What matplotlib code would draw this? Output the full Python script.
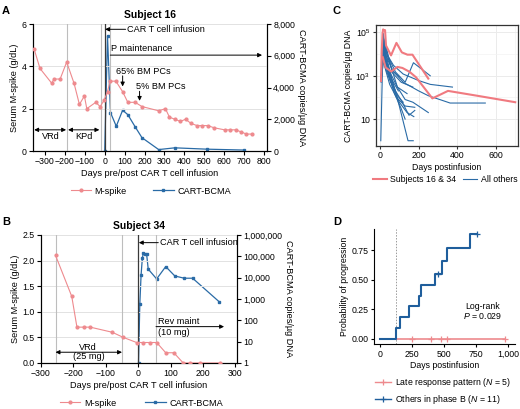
import matplotlib
matplotlib.use("Agg")
import matplotlib.pyplot as plt
import numpy as np
from matplotlib.lines import Line2D

plt.rcParams['font.family'] = ['Liberation Sans', 'DejaVu Sans']
plt.rcParams['mathtext.fontset'] = 'custom'
plt.rcParams['mathtext.rm'] = 'Liberation Sans'
plt.rcParams['mathtext.it'] = 'Liberation Sans:italic'
plt.rcParams['axes.linewidth'] = 0.8

# ---------------- data ----------------
# Panel A, subject 16
a_mspike_day = [-354, -325, -266, -255, -224, -191, -154, -127, -102, -90, -45, -23, -3, 14, 27, 56,
                90, 116, 153, 187, 271, 305, 325, 352, 380, 406, 434, 464, 489, 518, 548, 602, 629,
                657, 686, 711, 738]
a_mspike = [4.8, 3.9, 3.2, 3.4, 3.4, 4.2, 3.2, 2.2, 2.6, 2.0, 2.3, 2.1, 2.4, 2.8, 3.3, 3.3,
            2.8, 2.3, 2.3, 2.1, 1.9, 2.0, 1.6, 1.5, 1.4, 1.5, 1.3, 1.2, 1.2, 1.2, 1.1, 1.0, 1.0,
            1.0, 0.9, 0.8, 0.8]
a_cart_day = [14, 29, 58, 90, 116, 153, 187, 271, 352, 514, 700]
a_cart = [7240, 2420, 1560, 2570, 2290, 1520, 840, 90, 200, 115, 60]

# Panel B, subject 34
b_mspike_day = [-255, -205, -189, -167, -148, -80, -46, -5, 16, 36, 57, 85, 110, 139, 160, 190, 252]
b_mspike = [2.1, 1.3, 0.7, 0.7, 0.7, 0.6, 0.5, 0.4, 0.4, 0.4, 0.4, 0.2, 0.2, 0.0, 0.0, 0.0, 0.0]
b_cart_day = [1, 5, 9, 13, 16, 21, 26, 31, 57, 85, 113, 142, 168, 250]
b_cart = [1, 570, 14000, 87000, 138000, 128000, 128000, 25000, 8700, 33000, 12000, 9400, 9400, 740]

# Panel C, all other subjects
c_others = [
    ([4, 17, 30, 60, 100, 145, 172], [1, 90000, 10000, 800, 40, 1, 1]),
    ([10, 20, 40, 80, 130, 173, 260], [3000, 50000, 8000, 1500, 500, 4000, 1000]),
    ([8, 18, 35, 70, 120, 200, 260, 375], [2000, 30000, 10000, 3000, 1200, 600, 400, 300]),
    ([10, 25, 60, 120, 200, 250, 363, 545], [5000, 20000, 2000, 500, 200, 120, 55, 55]),
    ([12, 28, 55, 90, 130, 170, 250], [8000, 30000, 3000, 300, 80, 60, 20]),
    ([6, 14, 30, 60, 100, 140, 175], [500, 40000, 5000, 400, 60, 20, 13]),
    ([10, 20, 45, 80, 115, 150, 180], [1000, 20000, 1500, 200, 60, 15, 25]),
    ([9, 15, 35, 75, 110, 130], [2000, 60000, 2000, 150, 30, 10]),
    ([7, 14, 28, 50, 90, 120], [1000, 12000, 4000, 800, 120, 60]),
    ([10, 21, 42, 70, 100], [4000, 15000, 5000, 1500, 900]),
    ([8, 16, 30, 56, 90, 140], [3000, 25000, 6000, 1200, 300, 150]),
    ([7, 14, 28, 60, 110, 170], [600, 8000, 3000, 1500, 500, 300]),
    ([10, 20, 35, 60, 95], [2000, 10000, 3000, 700, 200]),
    ([9, 18, 30, 55], [1000, 5000, 2000, 500]),
    ([6, 14, 28, 50, 85, 130, 180], [800, 7000, 2000, 400, 100, 40, 35]),
]

# Panel D, Kaplan-Meier steps
d_blue_t = [0, 118, 155, 224, 303, 316, 426, 484, 524, 703, 760]
d_blue_p = [0, 0.091, 0.182, 0.273, 0.364, 0.455, 0.545, 0.659, 0.773, 0.886, 0.886]
d_blue_cens_t = [453, 760]
d_blue_cens_p = [0.545, 0.886]
d_red_t = [5, 979]
d_red_p = [0, 0]
d_red_cens_t = [250, 395, 479, 524, 979]

PINK = '#EE8A8E'
BLUE = '#2A6BA6'
DBLUE = '#1F5E9C'
RED_C = '#F07A80'
GRAYV = '#BDBDBD'
DARKV = '#3A3A3A'
FS = 6.3
LFS = 6.6


def fmt_comma(v, pos=None):
    return f'{int(round(v)):,}'


fig = plt.figure(figsize=(5.2, 4.09), dpi=100)

arr = dict(arrowstyle='-|>', color='black', lw=0.7, mutation_scale=6, shrinkA=0, shrinkB=0)
arr2 = dict(arrowstyle='<|-|>', color='black', lw=0.7, mutation_scale=6, shrinkA=0, shrinkB=0)

# ---------------- Panel A ----------------
axA = fig.add_axes([0.0635, 0.6308, 0.45, 0.3105])
axA2 = axA.twinx()
for yv in [2, 4, 6]:
    axA.axhline(yv, color='#E2E2E2', lw=0.7, zorder=0)
for xv in [-190, -20, 28]:
    axA.axvline(xv, color=GRAYV, lw=0.8, zorder=1)
axA.axvline(0, color=DARKV, lw=0.9, zorder=1)
axA.plot(a_mspike_day, a_mspike, color=PINK, lw=0.8, marker='o', ms=2, zorder=3)
axA2.plot([0] + a_cart_day, [0] + a_cart, color=BLUE, lw=0.9, marker='s', ms=2, zorder=3)
axA.set_xlim(-360, 815)
axA.set_ylim(0, 6)
axA2.set_ylim(0, 8000)
axA.set_xticks(np.arange(-300, 801, 100))
axA.set_yticks([0, 2, 4, 6])
axA2.set_yticks([0, 2000, 4000, 6000, 8000])
axA2.yaxis.set_major_formatter(plt.FuncFormatter(fmt_comma))
for ax in (axA, axA2):
    ax.spines['top'].set_visible(False)
    ax.tick_params(labelsize=FS, length=3, width=0.8, pad=1.5)
axA.set_xlabel('Days pre/post CAR T cell infusion', fontsize=LFS, labelpad=2)
axA.set_ylabel('Serum M-spike (g/dL)', fontsize=LFS, labelpad=2)
axA2.set_ylabel('CART-BCMA copies/µg DNA', fontsize=LFS, rotation=270, labelpad=8)
axA.set_title('Subject 16', fontsize=7.5, fontweight='bold', pad=4)
axA.set_zorder(axA2.get_zorder() + 1)
axA.patch.set_visible(False)

axA.annotate('', xy=(2, 5.75), xytext=(105, 5.75), arrowprops=arr)
axA.text(112, 5.75, 'CAR T cell infusion', fontsize=LFS, va='center', ha='left')
axA.text(34, 4.83, 'P maintenance', fontsize=LFS, va='center', ha='left')
axA.annotate('', xy=(790, 4.53), xytext=(28, 4.53), arrowprops=arr)
axA.text(58, 3.74, '65% BM PCs', fontsize=LFS, va='center', ha='left')
axA.annotate('', xy=(90, 3.05), xytext=(90, 3.55), arrowprops=arr)
axA.text(157, 3.03, '5% BM PCs', fontsize=LFS, va='center', ha='left')
axA.annotate('', xy=(175, 2.37), xytext=(175, 2.82), arrowprops=arr)
axA.annotate('', xy=(-354, 1.0), xytext=(-194, 1.0), arrowprops=arr2)
axA.annotate('', xy=(-184, 1.0), xytext=(-27, 1.0), arrowprops=arr2)
axA.text(-272, 0.7, 'VRd', fontsize=LFS, ha='center', va='center')
axA.text(-106, 0.7, 'KPd', fontsize=LFS, ha='center', va='center')

hA = [Line2D([], [], color=PINK, lw=0.8, marker='o', ms=2),
      Line2D([], [], color=BLUE, lw=0.9, marker='s', ms=2)]
fig.legend(hA, ['M-spike', 'CART-BCMA'], loc='center', bbox_to_anchor=(0.29, 1 - 191 / 409),
           ncol=2, frameon=False, fontsize=LFS, handlelength=2.2, columnspacing=2.9,
           handletextpad=0.4)

# ---------------- Panel B ----------------
axB = fig.add_axes([0.0788, 0.1125, 0.377, 0.313])
axB2 = axB.twinx()
for yv in [0.5, 1.0, 1.5, 2.0, 2.5]:
    axB.axhline(yv, color='#E2E2E2', lw=0.7, zorder=0)
for xv in [-255, -50, 55]:
    axB.axvline(xv, color=GRAYV, lw=0.8, zorder=1)
axB.axvline(0, color=DARKV, lw=0.9, zorder=1)
axB.plot(b_mspike_day, b_mspike, color=PINK, lw=0.8, marker='o', ms=2, zorder=3)
axB2.plot(b_cart_day, b_cart, color=BLUE, lw=0.9, marker='s', ms=2, zorder=3)
axB.set_xlim(-300, 305)
axB.set_ylim(0, 2.5)
axB2.set_yscale('log')
axB2.set_ylim(1, 1e6)
axB.set_xticks(np.arange(-300, 301, 100))
axB.set_yticks([0, 0.5, 1.0, 1.5, 2.0, 2.5])
axB.yaxis.set_major_formatter(plt.FuncFormatter(lambda v, p: f'{v:.1f}'))
axB2.set_yticks([1, 10, 100, 1e3, 1e4, 1e5, 1e6])
axB2.yaxis.set_major_formatter(plt.FuncFormatter(fmt_comma))
axB2.yaxis.set_minor_locator(plt.NullLocator())
for ax in (axB, axB2):
    ax.spines['top'].set_visible(False)
    ax.tick_params(labelsize=FS, length=3, width=0.8, pad=1.5)
axB.set_xlabel('Days pre/post CAR T cell infusion', fontsize=LFS, labelpad=2)
axB.set_ylabel('Serum M-spike (g/dL)', fontsize=LFS, labelpad=2)
axB2.set_ylabel('CART-BCMA copies/µg DNA', fontsize=LFS, rotation=270, labelpad=8)
axB.set_title('Subject 34', fontsize=7.5, fontweight='bold', pad=4)
axB.set_zorder(axB2.get_zorder() + 1)
axB.patch.set_visible(False)

axB.annotate('', xy=(2, 2.35), xytext=(62, 2.35), arrowprops=arr)
axB.text(67, 2.35, 'CAR T cell infusion', fontsize=LFS, va='center', ha='left')
axB.text(60, 0.81, 'Rev maint', fontsize=LFS, va='center', ha='left')
axB.text(60, 0.60, '(10 mg)', fontsize=LFS, va='center', ha='left')
axB.annotate('', xy=(265, 0.71), xytext=(55, 0.71), arrowprops=arr)
axB.annotate('', xy=(-255, 0.21), xytext=(-50, 0.21), arrowprops=arr2)
axB.text(-155, 0.31, 'VRd', fontsize=LFS, ha='center', va='center')
axB.text(-153, 0.12, '(25 mg)', fontsize=LFS, ha='center', va='center')

fig.legend(hA, ['M-spike', 'CART-BCMA'], loc='center', bbox_to_anchor=(0.272, 1 - 403 / 409),
           ncol=2, frameon=False, fontsize=LFS, handlelength=2.2, columnspacing=3.2,
           handletextpad=0.4)

# ---------------- Panel C ----------------
axC = fig.add_axes([0.723, 0.6438, 0.273, 0.295])
axC.set_yscale('log')
for days, vals in c_others:
    axC.plot(days, vals, color=BLUE, lw=0.8, zorder=2)
axC.plot(a_cart_day, a_cart, color=RED_C, lw=1.5, zorder=3)
axC.plot(b_cart_day[1:], b_cart[1:], color=RED_C, lw=1.5, zorder=3)
axC.set_xlim(-21, 714)
axC.set_ylim(0.59, 2.2e5)
axC.set_xticks([0, 200, 400, 600])
axC.set_xticks([100, 300, 500, 700], minor=True)
axC.set_yticks([10, 1e3, 1e5])
axC.set_yticklabels(['10', '$10^3$', '$10^5$'])
axC.set_yticks([1e2, 1e4], minor=True)
axC.yaxis.set_minor_formatter(plt.NullFormatter())
axC.grid(True, which='major', color='#EBEBEB', lw=0.7)
axC.grid(True, which='minor', color='#F3F3F3', lw=0.5)
axC.set_axisbelow(True)
for s in axC.spines.values():
    s.set_color('#333333')
    s.set_linewidth(0.9)
axC.tick_params(which='major', labelsize=FS, length=2.5, color='#333333', pad=1.5)
axC.tick_params(which='minor', length=0)
axC.set_xlabel('Days postinfusion', fontsize=FS, labelpad=2)
axC.set_ylabel('CART-BCMA copies/µg DNA', fontsize=FS, labelpad=2)
hC = [Line2D([], [], color=RED_C, lw=1.5), Line2D([], [], color=BLUE, lw=0.8)]
fig.legend(hC, ['Subjects 16 & 34', 'All others'], loc='center',
           bbox_to_anchor=(0.856, 1 - 180 / 409), ncol=2, frameon=False, fontsize=FS,
           handlelength=1.6, columnspacing=0.8, handletextpad=0.4)

# ---------------- Panel D ----------------
axD = fig.add_axes([0.719, 0.159, 0.271, 0.281])
axD.axvline(124, color='#9A9A9A', lw=0.7, ls=(0, (1.5, 1.5)), zorder=1)
axD.step(d_red_t, d_red_p, where='post', color=PINK, lw=1.2, zorder=2)
axD.plot(d_red_cens_t, [0] * len(d_red_cens_t), ls='none', marker='+', ms=5, mew=0.9,
         color=PINK, zorder=2)
axD.step(d_blue_t, d_blue_p, where='post', color=DBLUE, lw=1.5, zorder=3)
axD.plot(d_blue_cens_t, d_blue_cens_p, ls='none', marker='+', ms=5, mew=0.9,
         color=DBLUE, zorder=3)
axD.set_xlim(-52, 1055)
axD.set_ylim(-0.045, 0.93)
axD.set_xticks([0, 250, 500, 750, 1000])
axD.xaxis.set_major_formatter(plt.FuncFormatter(fmt_comma))
axD.set_yticks([0, 0.25, 0.5, 0.75])
axD.yaxis.set_major_formatter(plt.FuncFormatter(lambda v, p: f'{v:.2f}'))
axD.spines['top'].set_visible(False)
axD.spines['right'].set_visible(False)
axD.tick_params(labelsize=FS, length=2.5, pad=1.5)
axD.set_xlabel('Days postinfusion', fontsize=FS, labelpad=2)
axD.set_ylabel('Probability of progression', fontsize=FS, labelpad=2)
axD.text(800, 0.27, 'Log-rank', fontsize=FS, ha='center', va='center')
axD.text(800, 0.19, '$P$ = 0.029', fontsize=FS, ha='center', va='center')
hD = [Line2D([], [], color=PINK, lw=1.0, marker='+', ms=5, mew=0.9),
      Line2D([], [], color=DBLUE, lw=1.0, marker='+', ms=5, mew=0.9)]
fig.legend(hD, ['Late response pattern ($N$ = 5)', 'Others in phase B ($N$ = 11)'],
           loc='upper left', bbox_to_anchor=(0.718, 1 - 374 / 409), ncol=1, frameon=False,
           fontsize=FS, handlelength=1.8, handletextpad=0.5, labelspacing=0.5,
           borderaxespad=0, borderpad=0.2)

# panel letters
for lab, x, y in [('A', 0.004, 0.985), ('B', 0.004, 0.47), ('C', 0.64, 0.985), ('D', 0.64, 0.47)]:
    fig.text(x, y, lab, fontsize=8, fontweight='bold', va='top', ha='left')

fig.savefig('out.png', dpi=100)
